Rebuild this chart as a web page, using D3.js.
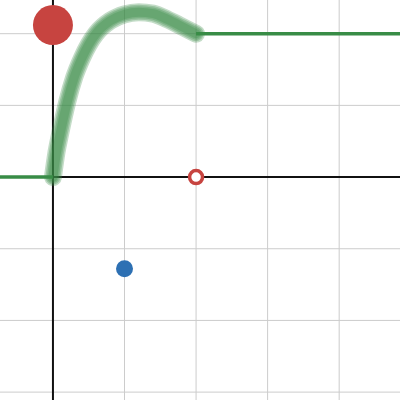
<!DOCTYPE html>
<html><head><meta charset="utf-8">
<script src="https://cdn.jsdelivr.net/npm/d3@7"></script>
<style>body{margin:0;background:#fff}svg{display:block}</style>
</head><body>
<svg id="chart" width="400" height="400"></svg>
<script>
// grid ticks
const xTicks = [0, 1, 2, 3, 4];
const yTicks = [-3, -2, -1, 0, 1, 2];

// green curve
const curveX = [-1, 0, 0.05, 0.1, 0.2, 0.3, 0.4, 0.5, 0.6, 0.8, 1.0, 1.2, 1.4, 1.6, 1.8, 2.0];
const curveY = [0, 0, 0.35, 0.6, 1.05, 1.4, 1.65, 1.85, 2.0, 2.18, 2.27, 2.3, 2.28, 2.2, 2.1, 2.0];
const flatX = [2, 6];
const flatY = [2, 2];

// points
const bigRed = {x: 0, y: 2.12};
const blueDot = {x: 1, y: -1.28};
const openRed = {x: 2, y: 0};

const svg = d3.select('#chart');
const x = d3.scaleLinear().domain([-0.74, 4.85]).range([0, 400]);
const y = d3.scaleLinear().domain([-3.11, 2.47]).range([400, 0]);

// grid
svg.append('g').selectAll('line').data(xTicks).join('line')
  .attr('x1', d => x(d)).attr('x2', d => x(d)).attr('y1', 0).attr('y2', 400)
  .attr('stroke', '#ccc').attr('stroke-width', 1);
svg.append('g').selectAll('line').data(yTicks).join('line')
  .attr('y1', d => y(d)).attr('y2', d => y(d)).attr('x1', 0).attr('x2', 400)
  .attr('stroke', '#ccc').attr('stroke-width', 1);

// axes
svg.append('line').attr('x1', x(0)).attr('x2', x(0)).attr('y1', 0).attr('y2', 400)
  .attr('stroke', '#111').attr('stroke-width', 2);
svg.append('line').attr('y1', y(0)).attr('y2', y(0)).attr('x1', 0).attr('x2', 400)
  .attr('stroke', '#111').attr('stroke-width', 2);

const line = d3.line().x(d => x(d[0])).y(d => y(d[1])).curve(d3.curveMonotoneX);
const curve = d3.zip(curveX, curveY).filter(d => d[0] >= 0);

// fuzzy thick curve
[18, 15, 12, 9].forEach(w => {
  svg.append('path').datum(curve).attr('d', line)
    .attr('fill', 'none').attr('stroke', '#388c46').attr('stroke-width', w)
    .attr('stroke-opacity', 0.3).attr('stroke-linecap', 'round');
});

// flat segments
svg.append('path').datum([[curveX[0], curveY[0]], [0, 0]]).attr('d', line)
  .attr('fill', 'none').attr('stroke', '#388c46').attr('stroke-width', 3.5);
svg.append('path').datum(d3.zip(flatX, flatY)).attr('d', line)
  .attr('fill', 'none').attr('stroke', '#388c46').attr('stroke-width', 3.5);

// points
svg.append('circle').attr('cx', x(bigRed.x)).attr('cy', y(bigRed.y)).attr('r', 20)
  .attr('fill', '#c74440');
svg.append('circle').attr('cx', x(blueDot.x)).attr('cy', y(blueDot.y)).attr('r', 8.5)
  .attr('fill', '#2d70b3');
svg.append('circle').attr('cx', x(openRed.x)).attr('cy', y(openRed.y)).attr('r', 6.5)
  .attr('fill', '#fff').attr('stroke', '#c74440').attr('stroke-width', 3.5);
</script>
</body></html>
